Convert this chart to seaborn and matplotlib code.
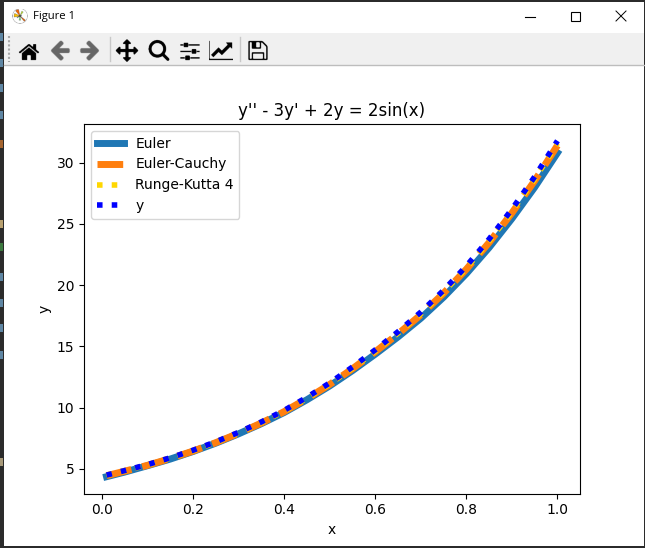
import os
import matplotlib
matplotlib.use('Agg')
import matplotlib.pyplot as plt
from matplotlib.patches import Rectangle
import seaborn as sns

W, H = 645, 548

## values
x = [0.01, 0.05, 0.10, 0.15, 0.20, 0.25, 0.30, 0.35, 0.40, 0.45, 0.50,
     0.55, 0.60, 0.65, 0.70, 0.75, 0.80, 0.85, 0.90, 0.95, 1.00]
euler = [4.37, 4.75, 5.27, 5.81, 6.43, 7.11, 7.87, 8.70, 9.61, 10.65, 11.78,
         13.03, 14.37, 15.78, 17.30, 19.02, 20.94, 23.07, 25.43, 27.99, 30.80]
euler_cauchy = [4.45, 4.82, 5.30, 5.85, 6.46, 7.15, 7.91, 8.75, 9.68, 10.74, 11.90,
                13.18, 14.56, 16.02, 17.58, 19.34, 21.30, 23.48, 25.89, 28.52, 31.40]
runge_kutta = [4.48, 4.85, 5.33, 5.88, 6.49, 7.18, 7.95, 8.79, 9.72, 10.78, 11.94,
               13.23, 14.62, 16.09, 17.67, 19.44, 21.41, 23.60, 26.02, 28.67, 31.58]
y_exact = [4.50, 4.87, 5.36, 5.91, 6.53, 7.22, 7.99, 8.84, 9.78, 10.85, 12.02,
           13.32, 14.72, 16.20, 17.80, 19.58, 21.56, 23.76, 26.19, 28.85, 31.78]

editor_bits = [(37, '#5f86a3'), (63, '#5f86a3'), (88, '#5f86a3'), (115, '#5f86a3'),
               (144, '#a5642f'), (224, '#b8a070'), (247, '#3d7a40'), (277, '#5f86a3'),
               (303, '#5f86a3'), (328, '#5f86a3'), (355, '#5f86a3'), (462, '#a89a7a')]
toolbar_icons = [('home', 29, False), ('back', 60, True), ('forward', 90, True),
                 ('move', 127, False), ('zoom_to_rect', 159, False), ('subplots', 190, False),
                 ('qt4_editor_options', 221, False), ('filesave', 258, False)]


def px_rect(left, top, width, height):
    return [left / W, 1 - (top + height) / H, width / W, height / H]


def put_icon(name, cx, cy, size, grey=False):
    img = plt.imread(os.path.join(matplotlib.get_data_path(), 'images', name + '.png')).copy()
    if grey:
        img[..., :3] = 0.4
    icon_ax = fig.add_axes(px_rect(cx - size / 2, cy - size / 2, size, size))
    icon_ax.imshow(img, interpolation='antialiased')
    icon_ax.axis('off')


fig = plt.figure(figsize=(W / 100, H / 100), dpi=100)

## window around the canvas
chrome = fig.add_axes([0, 0, 1, 1])
chrome.set_xlim(0, W)
chrome.set_ylim(H, 0)
chrome.axis('off')
dark = '#2b2b2b'
chrome.add_patch(Rectangle((0, 0), W, 2, color=dark, lw=0))
chrome.add_patch(Rectangle((0, 546), W, 2, color=dark, lw=0))
chrome.add_patch(Rectangle((0, 0), 4, H, color=dark, lw=0))
chrome.add_patch(Rectangle((644, 0), 1, H, color=dark, lw=0))
for py, col in editor_bits:
    chrome.add_patch(Rectangle((0, py - 4), 2.5, 8, color=col, lw=0))
chrome.add_patch(Rectangle((4, 33), 640, 32, color='#f0f0f0', lw=0))
chrome.plot([4, 644], [65, 65], color='#bdbdbd', lw=1)
chrome.plot([9, 9], [36, 62], color='#a8a8a8', lw=1.5, ls=(0, (1, 1)))
for sx in [109.5, 239.5]:
    chrome.plot([sx, sx], [37, 61], color='#c8c8c8', lw=1)
chrome.text(33, 17, 'Figure 1', family='Open Sans', fontsize=8.1, va='center', ha='left', color='k')
chrome.plot([525, 535], [16.5, 16.5], color='k', lw=0.8)
chrome.add_patch(Rectangle((570.5, 11.5), 9, 9, fill=False, ec='k', lw=0.8))
chrome.plot([616, 626], [11, 21], color='k', lw=0.7)
chrome.plot([616, 626], [21, 11], color='k', lw=0.7)

put_icon('matplotlib_large', 20, 16.5, 16)
for name, cx, grey in toolbar_icons:
    put_icon(name + '_large', cx, 50.5, 24, grey)

## the plot
ax = fig.add_axes(px_rect(84, 124, 496, 369.5))
sns.lineplot(x=x, y=euler, ax=ax, label='Euler', linewidth=5, color='C0', solid_capstyle='projecting')
sns.lineplot(x=x, y=euler_cauchy, ax=ax, label='Euler-Cauchy', linewidth=5, linestyle='--', color='C1')
sns.lineplot(x=x, y=runge_kutta, ax=ax, label='Runge-Kutta 4', linewidth=4, linestyle=':', color='gold')
sns.lineplot(x=x, y=y_exact, ax=ax, label='y', linewidth=4, linestyle=':', color='b')
leg = ax.legend(loc='upper left')
leg.get_lines()[0].set_solid_capstyle('projecting')
ax.set_title("y'' - 3y' + 2y = 2sin(x)")
ax.set_xlabel('x')
ax.set_ylabel('y')

fig.savefig('out.png', dpi=100)
